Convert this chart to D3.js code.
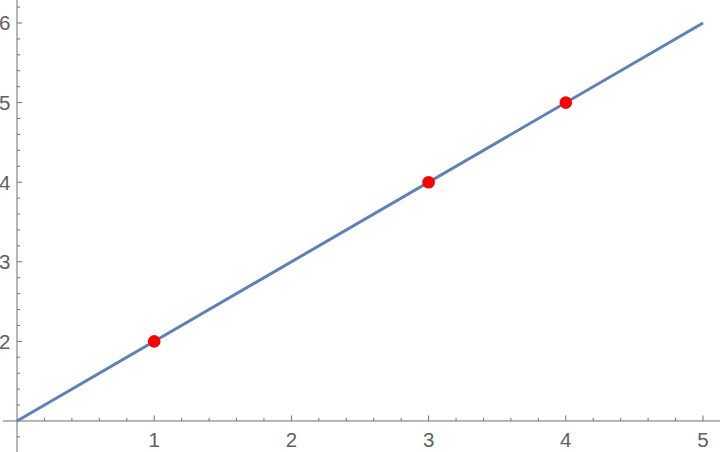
<!DOCTYPE html>
<html>
<head>
<meta charset="utf-8">
<script src="https://cdn.jsdelivr.net/npm/d3@7"></script>
<style>
  body { margin: 0; background: #fff; }
  svg { display: block; font-family: 'Liberation Sans', Arial, sans-serif; }
</style>
</head>
<body>
<div id="chart"></div>
<script>
const lineX = [0, 5]
const lineY = [1, 6]
const pointX = [1, 3, 4]
const pointY = [2, 4, 5]
const xTicks = [1, 2, 3, 4, 5]
const yTicks = [2, 3, 4, 5, 6]

const width = 720
const height = 452

const x = d3.scaleLinear().domain([-0.124, 5.124]).range([0, width])
const y = d3.scaleLinear().domain([0.61, 6.289]).range([height, 0])

const svg = d3.select('#chart').append('svg')
  .attr('width', width)
  .attr('height', height)

const axisColor = '#6e6e6e'
const textColor = '#606060'

// minor ticks every 0.2
const xMinor = d3.range(0, 25.01).map(i => i * 0.2).filter(v => Math.abs(v - Math.round(v)) > 1e-6)
const yMinor = d3.range(4, 32).map(i => i * 0.2).filter(v => Math.abs(v - Math.round(v)) > 1e-6)

// x axis (crosses at y = 1)
const gx = svg.append('g').attr('transform', `translate(0,${y(1)})`)
gx.append('line')
  .attr('x1', 3).attr('x2', width)
  .attr('stroke', axisColor).attr('stroke-width', 1)
gx.selectAll('.minor').data(xMinor).enter().append('line')
  .attr('x1', d => x(d)).attr('x2', d => x(d))
  .attr('y1', 0).attr('y2', -3)
  .attr('stroke', axisColor)
gx.selectAll('.major').data(xTicks).enter().append('line')
  .attr('x1', d => x(d)).attr('x2', d => x(d))
  .attr('y1', 0).attr('y2', -5.5)
  .attr('stroke', axisColor)
gx.selectAll('text').data(xTicks).enter().append('text')
  .attr('x', d => x(d))
  .attr('y', 26)
  .attr('text-anchor', 'middle')
  .attr('fill', textColor)
  .attr('font-size', 20.5)
  .text(d => d)

// y axis (at x = 0)
const gy = svg.append('g').attr('transform', `translate(${x(0)},0)`)
gy.append('line')
  .attr('y1', 0).attr('y2', height)
  .attr('stroke', axisColor).attr('stroke-width', 1)
gy.selectAll('.minor').data(yMinor).enter().append('line')
  .attr('y1', d => y(d)).attr('y2', d => y(d))
  .attr('x1', 0).attr('x2', 3)
  .attr('stroke', axisColor)
gy.selectAll('.major').data(yTicks).enter().append('line')
  .attr('y1', d => y(d)).attr('y2', d => y(d))
  .attr('x1', 0).attr('x2', 5)
  .attr('stroke', axisColor)
gy.selectAll('text').data(yTicks).enter().append('text')
  .attr('x', -6.5)
  .attr('y', d => y(d))
  .attr('dy', '0.36em')
  .attr('text-anchor', 'end')
  .attr('fill', textColor)
  .attr('font-size', 20.5)
  .text(d => d)

// the line
const line = d3.line().x(d => x(d[0])).y(d => y(d[1]))
svg.append('path')
  .datum(d3.zip(lineX, lineY))
  .attr('d', line)
  .attr('fill', 'none')
  .attr('stroke', '#5e81b5')
  .attr('stroke-width', 3)

// red points
svg.selectAll('.pt').data(d3.zip(pointX, pointY)).enter().append('circle')
  .attr('cx', d => x(d[0]))
  .attr('cy', d => y(d[1]))
  .attr('r', 6.3)
  .attr('fill', '#ff0000')
</script>
</body>
</html>
